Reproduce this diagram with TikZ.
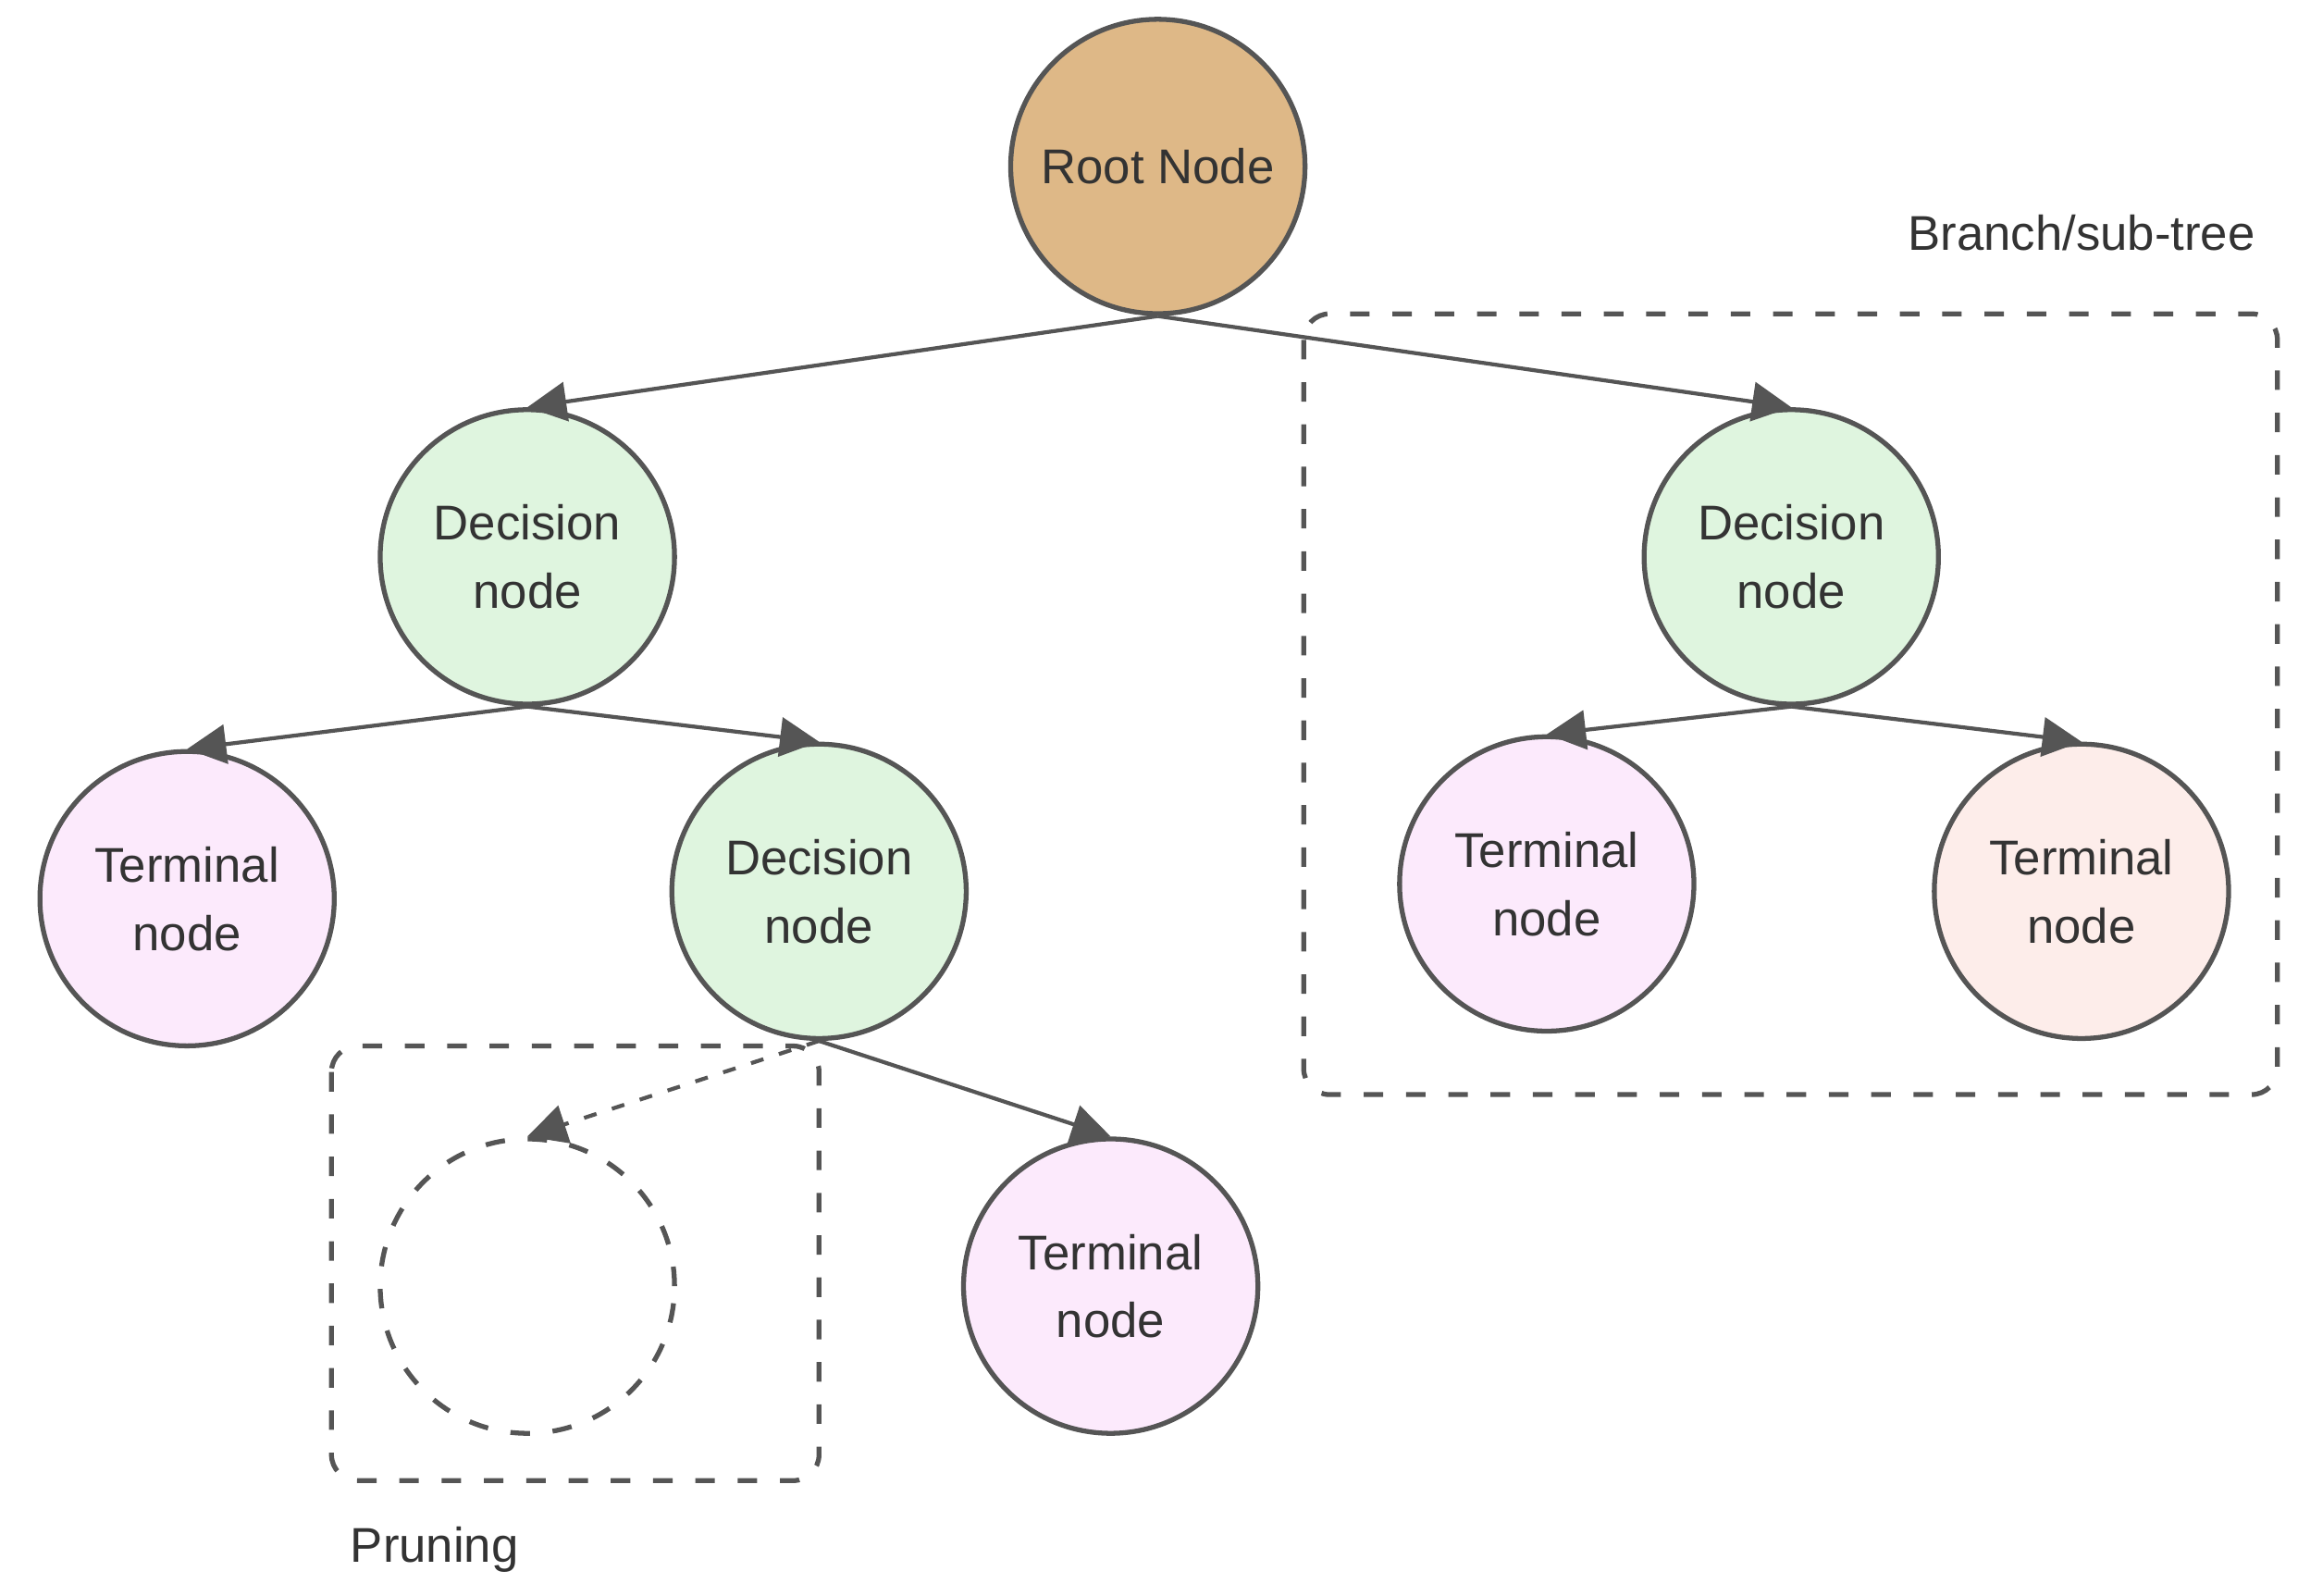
\documentclass[tikz,border=0pt]{standalone}
\usepackage{fontspec}
\setmainfont{Liberation Sans}
\usetikzlibrary{arrows.meta}
\definecolor{ln}{HTML}{555555}
\definecolor{tx}{HTML}{333333}
\definecolor{rootc}{HTML}{DEB887}
\definecolor{decc}{HTML}{DFF5DF}
\definecolor{termc}{HTML}{FCEAFC}
\definecolor{termd}{HTML}{FDEDEA}
\begin{document}
\begin{tikzpicture}[x=0.01592cm,y=-0.01592cm,
  nd/.style={circle,draw=ln,line width=1.5pt,minimum size=3.18cm,inner sep=0pt,align=center,font=\fontsize{15}{21}\selectfont,text=tx},
  ar/.style={draw=ln,line width=1.2pt,-{Triangle[length=12pt,width=12pt]}},
  box/.style={draw=ln,line width=1.5pt,dash pattern=on 6pt off 7pt,rounded corners=8pt},
  lab/.style={font=\fontsize{15}{18}\selectfont,text=tx}]
\useasboundingbox (0,0) rectangle (1560,1083);
\node[nd,fill=rootc] (root) at (786,113) {Root Node};
\node[nd,fill=decc] (dl) at (358,378) {Decision\\node};
\node[nd,fill=decc] (dr) at (1216,378) {Decision\\node};
\node[nd,fill=termc] (tll) at (127,610) {Terminal\\node};
\node[nd,fill=decc] (dm) at (556,605) {Decision\\node};
\node[nd,fill=termc] (tm) at (754,873) {Terminal\\node};
\node[nd,draw=ln,dash pattern=on 6pt off 7pt] (pr) at (358,873) {};
\node[nd,fill=termc] (trl) at (1050,600) {Terminal\\node};
\node[nd,fill=termd] (trr) at (1413,605) {Terminal\\node};
\draw[box] (885,213) rectangle (1546,743);
\draw[box] (225,710) rectangle (556,1005);
\node[lab] (bl) at (1413,158) {Branch/sub-tree};
\node[lab] (pl) at (295,1052) {Pruning};
\draw[ar] (root.south) -- (dl.north);
\draw[ar] (root.south) -- (dr.north);
\draw[ar] (dl.south) -- (tll.north);
\draw[ar] (dl.south) -- (dm.north);
\draw[ar] (dm.south) -- (tm.north);
\draw[ar,dash pattern=on 4pt off 5pt] (dm.south) -- (pr.north);
\draw[ar] (dr.south) -- (trl.north);
\draw[ar] (dr.south) -- (trr.north);
\end{tikzpicture}
\end{document}
